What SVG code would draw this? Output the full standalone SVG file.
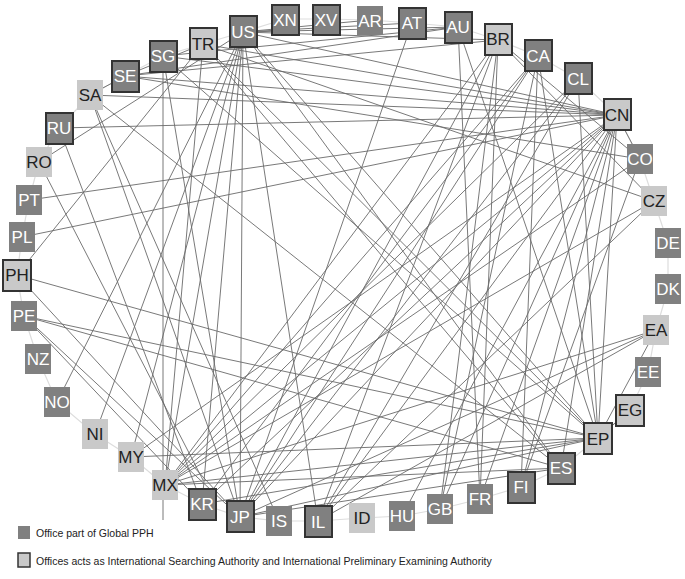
<svg xmlns="http://www.w3.org/2000/svg" width="685" height="579" viewBox="0 0 685 579">
<style>
.e{stroke:#6a6a6a;stroke-width:0.9;fill:none}
.r{stroke:#dddddd;stroke-width:1.2;fill:none}
.d rect{fill:#808080}
.l rect{fill:#c9c9c9}
.b rect{stroke:#333;stroke-width:2}
.n rect{stroke:none}
text{font-family:"Liberation Sans",Arial,sans-serif;font-size:17px;text-anchor:middle;dominant-baseline:central}
.d text{fill:#fff}
.l text{fill:#222}
.lg{font-size:10.5px;text-anchor:start;fill:#222}
</style>
<rect width="685" height="579" fill="#fff"/>
<g id="connectors">
<polygon class="r" points="285,19 326,19 370,20 412,23 458,27 498,40 538,56 578,79 617,115 640,159 654,201 668,243 668,289 656,330 648,372 630,410 598,438 561,468 521,487 480,499 440,509 402,516 362,518 318,521 279,521 240,517 202,504 165,485 131,457 95,434 57,402 38,359 24,316 17,275 22,237 29,200 39,162 59,128 90,95 125,76 163,56 203,44 243,32"/>
<path class="e" d="M243,32L240,517M243,32L165,485M243,32L202,504M243,32L598,438M243,32L561,468M243,32L617,115M243,32L498,40M243,32L458,27M243,32L370,20M243,32L131,457M243,32L57,402M243,32L318,521M243,32L95,434M243,32L412,23
M617,115L125,76M617,115L90,95M617,115L163,56M617,115L59,128M617,115L29,200M617,115L22,237M617,115L203,44M617,115L240,517M617,115L165,485M617,115L202,504M617,115L318,521M617,115L561,468M617,115L521,487M617,115L440,509M617,115L480,499M617,115L131,457M617,115L598,438M617,115L640,159
M598,438L17,275M598,438L24,316M598,438L131,457M598,438L165,485M598,438L240,517M598,438L202,504M598,438L163,56M598,438L656,330M598,438L203,44M598,438L630,410
M240,517L163,56M240,517L538,56M240,517L498,40M240,517L412,23M240,517L17,275M240,517L24,316M240,517L561,468M240,517L656,330M240,517L578,79M240,517L90,95
M165,485L538,56M165,485L498,40M165,485L561,468M165,485L654,201M165,485L578,79M165,485L203,44M165,485L656,330M165,485L640,159
M202,504L59,128M202,504L24,316M202,504L538,56
M318,521L498,40M318,521L578,79M318,521L654,201M318,521L656,330
M279,521L90,95M402,516L617,115M480,499L498,40M480,499L458,27M440,509L538,56M440,509L498,40
M561,468L90,95M561,468L203,44M561,468L24,316M521,487L538,56M521,487L640,159
M498,40L654,201M498,40L640,159M538,56L598,438M578,79L598,438M458,27L598,438M125,76L498,40M125,76L458,27M163,56L458,27M125,76L640,159M203,44L654,201
M39,162L243,32M39,162L203,480M163,56L163,520M125,76L203,44M17,275L203,44M90,95L125,76"/>
</g>
<g id="XN" class="d b"><rect x="272" y="5" width="27" height="30"/><text x="285" y="20">XN</text></g>
<g id="XV" class="d b"><rect x="313" y="5" width="27" height="30"/><text x="326" y="20">XV</text></g>
<g id="AR" class="d n"><rect x="357" y="6" width="26" height="29"/><text x="370" y="21">AR</text></g>
<g id="AT" class="d b"><rect x="399" y="8" width="27" height="31"/><text x="412" y="23">AT</text></g>
<g id="AU" class="d b"><rect x="445" y="12" width="27" height="31"/><text x="458" y="27">AU</text></g>
<g id="BR" class="l b"><rect x="485" y="24" width="27" height="31"/><text x="498" y="39">BR</text></g>
<g id="CA" class="d b"><rect x="525" y="40" width="27" height="31"/><text x="538" y="56">CA</text></g>
<g id="CL" class="d b"><rect x="565" y="63" width="27" height="31"/><text x="578" y="79">CL</text></g>
<g id="CN" class="l b"><rect x="604" y="99" width="27" height="31"/><text x="617" y="115">CN</text></g>
<g id="CO" class="d n"><rect x="627" y="144" width="26" height="30"/><text x="640" y="159">CO</text></g>
<g id="CZ" class="l n"><rect x="641" y="186" width="26" height="30"/><text x="654" y="201">CZ</text></g>
<g id="DE" class="d n"><rect x="655" y="228" width="26" height="30"/><text x="668" y="243">DE</text></g>
<g id="DK" class="d n"><rect x="655" y="274" width="26" height="30"/><text x="668" y="289">DK</text></g>
<g id="EA" class="l n"><rect x="643" y="315" width="26" height="30"/><text x="656" y="330">EA</text></g>
<g id="EE" class="d n"><rect x="635" y="357" width="26" height="30"/><text x="648" y="372">EE</text></g>
<g id="EG" class="l b"><rect x="616" y="395" width="28" height="31"/><text x="630" y="410">EG</text></g>
<g id="EP" class="l b"><rect x="584" y="423" width="28" height="31"/><text x="598" y="439">EP</text></g>
<g id="ES" class="d b"><rect x="548" y="453" width="27" height="31"/><text x="561" y="468">ES</text></g>
<g id="FI" class="d b"><rect x="508" y="472" width="27" height="31"/><text x="521" y="487">FI</text></g>
<g id="FR" class="d n"><rect x="467" y="484" width="26" height="30"/><text x="480" y="499">FR</text></g>
<g id="GB" class="d n"><rect x="427" y="494" width="26" height="30"/><text x="440" y="509">GB</text></g>
<g id="HU" class="d n"><rect x="389" y="501" width="26" height="30"/><text x="402" y="516">HU</text></g>
<g id="ID" class="l n"><rect x="349" y="503" width="26" height="30"/><text x="362" y="518">ID</text></g>
<g id="IL" class="d b"><rect x="305" y="506" width="27" height="31"/><text x="318" y="522">IL</text></g>
<g id="IS" class="d n"><rect x="266" y="506" width="26" height="30"/><text x="279" y="521">IS</text></g>
<g id="JP" class="d b"><rect x="227" y="501" width="27" height="31"/><text x="240" y="517">JP</text></g>
<g id="KR" class="d b"><rect x="189" y="489" width="27" height="31"/><text x="202" y="504">KR</text></g>
<g id="MX" class="l n"><rect x="152" y="470" width="26" height="30"/><text x="165" y="485">MX</text></g>
<g id="MY" class="l n"><rect x="118" y="442" width="26" height="30"/><text x="131" y="457">MY</text></g>
<g id="NI" class="l n"><rect x="82" y="419" width="26" height="30"/><text x="95" y="434">NI</text></g>
<g id="NO" class="d n"><rect x="44" y="387" width="26" height="30"/><text x="57" y="402">NO</text></g>
<g id="NZ" class="d n"><rect x="25" y="344" width="26" height="30"/><text x="38" y="359">NZ</text></g>
<g id="PE" class="d n"><rect x="11" y="301" width="26" height="30"/><text x="24" y="316">PE</text></g>
<g id="PH" class="l b"><rect x="3" y="260" width="28" height="31"/><text x="17" y="275">PH</text></g>
<g id="PL" class="d n"><rect x="9" y="222" width="26" height="30"/><text x="22" y="237">PL</text></g>
<g id="PT" class="d n"><rect x="16" y="185" width="26" height="30"/><text x="29" y="200">PT</text></g>
<g id="RO" class="l n"><rect x="26" y="147" width="26" height="30"/><text x="39" y="162">RO</text></g>
<g id="RU" class="d b"><rect x="46" y="113" width="27" height="31"/><text x="59" y="128">RU</text></g>
<g id="SA" class="l n"><rect x="77" y="80" width="26" height="30"/><text x="90" y="95">SA</text></g>
<g id="SE" class="d b"><rect x="112" y="61" width="27" height="31"/><text x="125" y="76">SE</text></g>
<g id="SG" class="d b"><rect x="150" y="41" width="27" height="31"/><text x="163" y="56">SG</text></g>
<g id="TR" class="l b"><rect x="190" y="28" width="27" height="31"/><text x="203" y="44">TR</text></g>
<g id="US" class="d b"><rect x="230" y="16" width="27" height="31"/><text x="243" y="32">US</text></g>
<g id="legend">
<rect x="18" y="526" width="12" height="13" fill="#808080"/>
<text class="lg" x="36" y="533">Office part of Global PPH</text>
<rect x="18" y="553" width="12" height="14" fill="#c9c9c9" stroke="#333" stroke-width="1.5"/>
<text class="lg" x="36" y="561">Offices acts as International Searching Authority and International Preliminary Examining Authority</text>
</g>
</svg>
